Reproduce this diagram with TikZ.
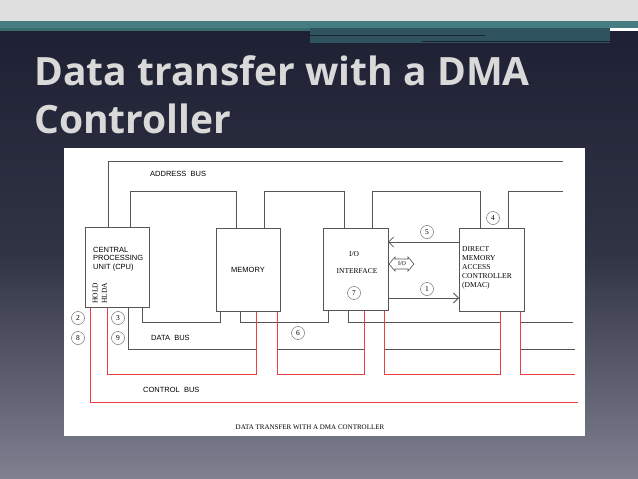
\documentclass[tikz,border=0pt]{standalone}
\usepackage{fontspec}
\usetikzlibrary{arrows.meta}
\setmainfont{Liberation Serif}
\setsansfont{Liberation Sans}
\newfontfamily\titlefont{Open Sans}
\definecolor{bgdark}{HTML}{1E2133}
\definecolor{bglight}{HTML}{7F8090}
\definecolor{teal}{HTML}{457D82}
\definecolor{tealdk}{HTML}{2F545F}
\definecolor{busred}{HTML}{E84040}
\definecolor{busgray}{HTML}{555555}
\begin{document}
\begin{tikzpicture}[x=1pt,y=-1pt,
  box/.style={draw=busgray,line width=0.8pt,fill=white},
  gb/.style={draw=busgray,line width=0.8pt},
  rb/.style={draw=busred,line width=0.8pt},
  num/.style={draw=busgray,circle,inner sep=0pt,minimum size=13pt,font=\fontsize{7.5}{7.5}\selectfont},
  lab/.style={font=\sffamily\fontsize{7.5}{8.5}\selectfont,align=left,inner sep=0pt,anchor=west},
  slab/.style={font=\fontsize{7.5}{9}\selectfont,align=left,inner sep=0pt,anchor=west}]
\useasboundingbox (0,0) rectangle (638,479);
% background
\fill[gray!25] (0,0) rectangle (638,21);
\shade[top color=bgdark,bottom color=bglight,middle color=bgdark!80!bglight] (0,31) rectangle (638,479);
\fill[teal] (0,21) rectangle (638,28);
\fill[teal!85!black] (0,28) rectangle (310,31);
\fill[tealdk] (310,28) rectangle (610,43);
\draw[bgdark,line width=0.6pt] (310,35) -- (485,35);
\draw[bgdark,line width=0.6pt] (422,41) -- (610,41);
% title
\node[anchor=base west,inner sep=0pt,text=gray!30,font=\titlefont\bfseries\fontsize{39}{40}\selectfont] (t1) at (34,85) {Data transfer with a DMA};
\node[anchor=base west,inner sep=0pt,text=gray!30,font=\titlefont\bfseries\fontsize{39}{40}\selectfont] (t2) at (34,133) {Controller};
% panel
\fill[white] (64,148) rectangle (585,436);
% address bus
\draw[gb] (108,227) -- (108,161) -- (563,161);
\draw[gb] (130,227) -- (130,191) -- (236,191) -- (236,228);
\draw[gb] (264,228) -- (264,191) -- (344,191) -- (344,228);
\draw[gb] (372,228) -- (372,191) -- (480,191) -- (480,228);
\draw[gb] (508,228) -- (508,191) -- (563,191);
% data bus
\draw[gb] (142,307) -- (142,322) -- (220,322) -- (220,311);
\draw[gb] (240,311) -- (240,322) -- (328,322) -- (328,310);
\draw[gb] (348,310) -- (348,322) -- (500,322);
\draw[gb] (520,322) -- (573,322);
\draw[gb] (128,307) -- (128,349) -- (256,349);
\draw[gb] (277,349) -- (364,349);
\draw[gb] (384,349) -- (500,349);
\draw[gb] (520,349) -- (575,349);
% control bus
\draw[rb] (107,307) -- (107,374) -- (256,374) -- (256,311);
\draw[rb] (277,311) -- (277,374) -- (364,374) -- (364,310);
\draw[rb] (384,310) -- (384,374) -- (500,374) -- (500,311);
\draw[rb] (520,311) -- (520,374) -- (575,374);
\draw[rb] (90,307) -- (90,402) -- (578,402);
% boxes
\node[box,minimum width=64pt,minimum height=80pt,inner sep=0pt] (cpu) at (117,267) {};
\node[box,minimum width=64pt,minimum height=83pt,inner sep=0pt] (mem) at (248,269.5) {};
\node[box,minimum width=65pt,minimum height=82pt,inner sep=0pt] (io) at (355.5,269) {};
\node[box,minimum width=65pt,minimum height=83pt,inner sep=0pt] (dmac) at (491.5,269.5) {};
\node[lab] (cput) at (93,259) {CENTRAL\\PROCESSING\\UNIT (CPU)};
\node[slab,rotate=90,anchor=south west] (hold) at (98,304) {HOLD};
\node[slab,rotate=90,anchor=south west] (hlda) at (107,304) {HLDA};
\node[lab,anchor=center] (memt) at (mem) {MEMORY};
\node[slab,anchor=center] (iot) at (354,254) {I/O};
\node[slab,anchor=center] (ift) at (357,271) {INTERFACE};
\node[slab] (dmt) at (462,268) {DIRECT\\MEMORY\\ACCESS\\CONTROLLER\\(DMAC)};
% arrows
\coordinate (a5s) at (459,242); \coordinate (a5e) at (388,242);
\draw[gb,-{Straight Barb[length=5pt,width=10pt]}] (a5s) -- (a5e);
\coordinate (a1s) at (388,298); \coordinate (a1e) at (459,298);
\draw[gb,-{Straight Barb[length=5pt,width=10pt]}] (a1s) -- (a1e);
\node[font=\fontsize{6}{6}\selectfont,inner sep=0pt] (ioa) at (402,264) {I/O};
\draw[gb,line width=0.6pt] (389,264) -- (395,257) -- (395,259) -- (408,259) -- (408,257) -- (414,264)
  -- (408,271) -- (408,269) -- (395,269) -- (395,271) -- cycle;
% numbers
\node[num] (n4) at (493,218) {4};
\node[num] (n5) at (427,232) {5};
\node[num] (n1) at (427,289) {1};
\node[num] (n7) at (354,293) {7};
\node[num] (n2) at (78,318) {2};
\node[num] (n8) at (78,338) {8};
\node[num] (n3) at (118,318) {3};
\node[num] (n9) at (118,338) {9};
\node[num] (n6) at (298,333) {6};
% bus labels
\node[lab] (abus) at (150,174) {ADDRESS\ \ BUS};
\node[lab] (dbus) at (151,338) {DATA\ \ BUS};
\node[lab] (cbus) at (143,390) {CONTROL\ \ BUS};
\node[font=\fontsize{7}{7}\selectfont,inner sep=0pt] (cap) at (310,427) {DATA TRANSFER WITH A DMA CONTROLLER};
\end{tikzpicture}
\end{document}
